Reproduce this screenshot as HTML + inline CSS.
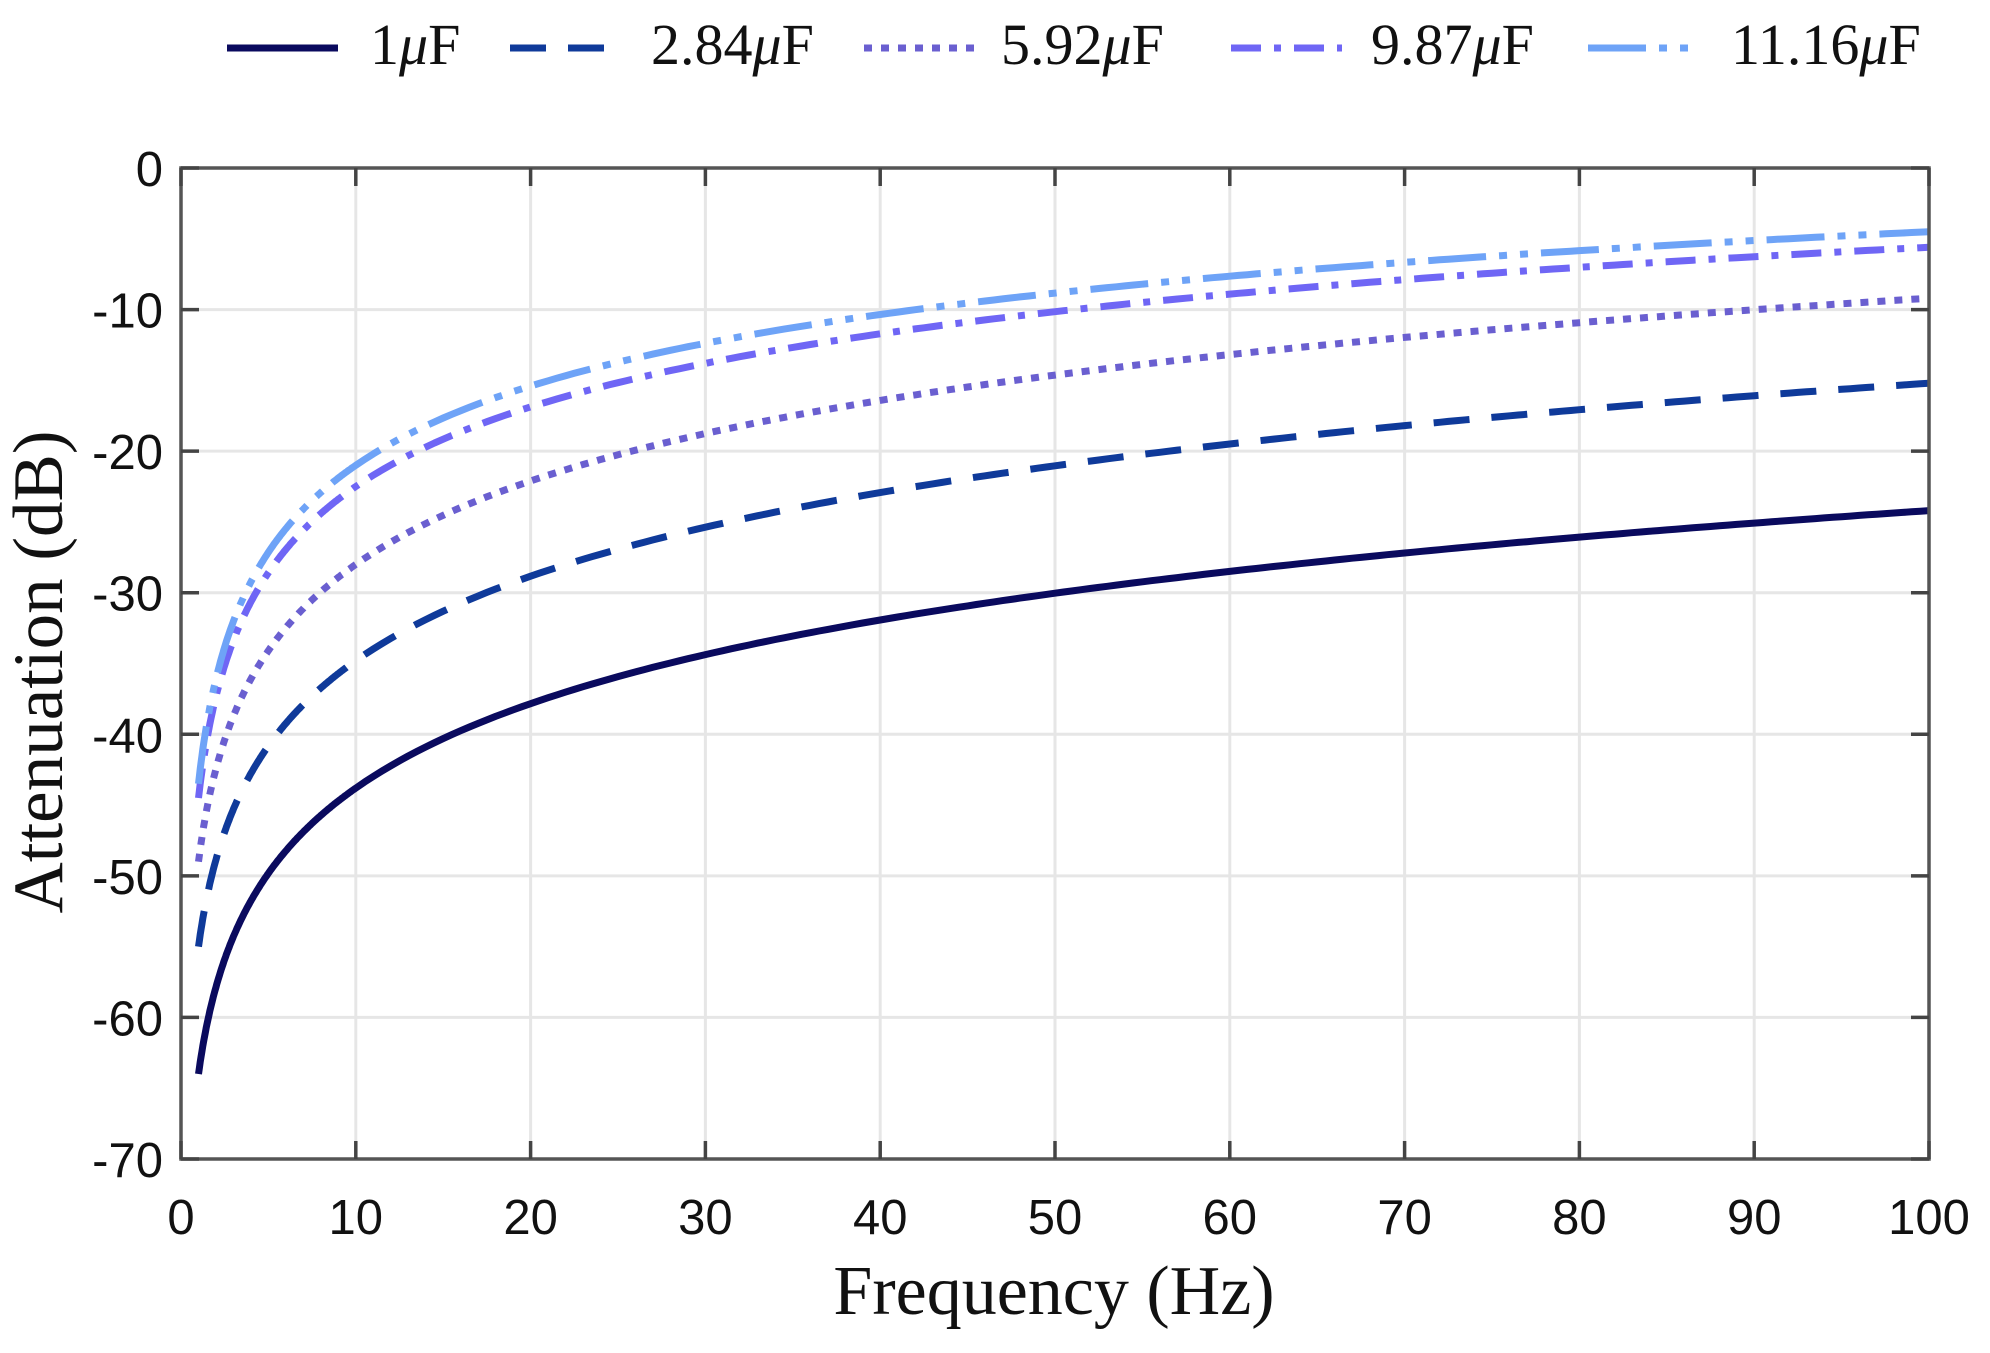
<!DOCTYPE html>
<html><head><meta charset="utf-8"><style>html,body{margin:0;padding:0;background:#fff}</style></head>
<body>
<svg id="s" width="1990" height="1353" xmlns="http://www.w3.org/2000/svg" style="display:block">
<rect width="1990" height="1353" fill="#fff"/>
<g id="grid" stroke="#e6e6e6" stroke-width="3"></g>
<g id="curves" fill="none" stroke-width="7" stroke-linejoin="round"></g>
<rect x="181" y="168" width="1748" height="991" fill="none" stroke="#555" stroke-width="3.5"/>
<g id="ticks" stroke="#444" stroke-width="3.5"></g>
<g id="lbl" font-family="Liberation Sans, sans-serif" font-size="49" fill="#111"></g>
<text x="1054" y="1314" text-anchor="middle" font-family="Liberation Serif, serif" font-size="70" fill="#111">Frequency (Hz)</text>
<text transform="translate(62,672) rotate(-90)" text-anchor="middle" font-family="Liberation Serif, serif" font-size="71" fill="#111">Attenuation (dB)</text>
<g id="leg" font-family="Liberation Serif, serif" font-size="58" fill="#111"></g>
</svg>
<script>
const X=f=>181+f*17.48, Y=d=>168-d*14.157;
const g=document.getElementById('grid'),t=document.getElementById('ticks'),l=document.getElementById('lbl');
const ns='http://www.w3.org/2000/svg';
function el(p,tag,a,txt){const e=document.createElementNS(ns,tag);for(const k in a)e.setAttribute(k,a[k]);if(txt!==undefined)e.textContent=txt;p.appendChild(e);return e;}
for(let i=0;i<=10;i++){const x=X(i*10);
 if(i>0&&i<10)el(g,'line',{x1:x,y1:168,x2:x,y2:1159});
 el(t,'line',{x1:x,y1:1159,x2:x,y2:1141});el(t,'line',{x1:x,y1:168,x2:x,y2:186});
 el(l,'text',{x:x,y:1234,'text-anchor':'middle'},String(i*10));}
for(let j=0;j<=7;j++){const y=Y(-j*10);
 if(j>0&&j<7)el(g,'line',{x1:181,y1:y,x2:1929,y2:y});
 el(t,'line',{x1:181,y1:y,x2:199,y2:y});el(t,'line',{x1:1929,y1:y,x2:1911,y2:y});
 el(l,'text',{x:163,y:y+18,'text-anchor':'end'},j?'-'+j*10:'0');}
const S=[
 ['#0a0a5e','',[-64,20.5,-0.3]],
 ['#0f3a9a','36 22',[-55,20.5,-0.3]],
 ['#6a5fd0','8 9',[-49,22.1,-1.1]],
 ['#6f66f5','30 13 7 13',[-44.5,24.55,-2.55]],
 ['#6ea3f7','58 13 8 13 8 13',[-43.5,25.5,-3]]];
const c=document.getElementById('curves');
S.forEach(s=>{const [a0,b,cc]=s[2];let d='';for(let f=1;f<=100.001;f+=(f<10?0.05:0.5)){const L=Math.log10(f);d+=(d?'L':'M')+X(f).toFixed(1)+','+Y(a0+b*L+cc*L*L).toFixed(1);}
 const a={d:d,stroke:s[0]};if(s[1])a['stroke-dasharray']=s[1];el(c,'path',a);});
const lg=document.getElementById('leg');
const L=[[227,370,'1'],[510,651,'2.84'],[864,1001,'5.92'],[1231,1371,'9.87'],[1588,1731,'11.16']];
L.forEach((v,i)=>{const s=S[i];const a={x1:v[0],y1:48,x2:v[0]+111,y2:48,stroke:s[0],'stroke-width':7};if(s[1])a['stroke-dasharray']=s[1];el(lg,'line',a);
 const tx=el(lg,'text',{x:v[1],y:64});tx.appendChild(document.createTextNode(v[2]));el(tx,'tspan',{'font-style':'italic'},'μ');tx.appendChild(document.createTextNode('F'));});
</script>
</body></html>
